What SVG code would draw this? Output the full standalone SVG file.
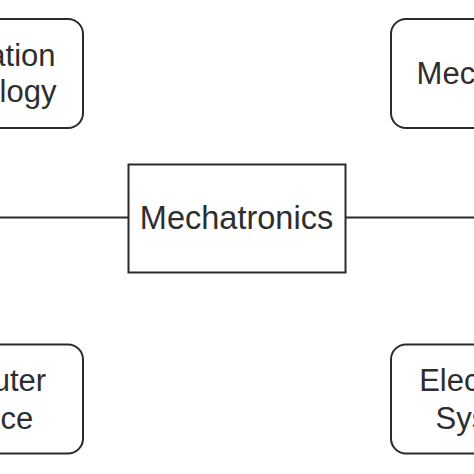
<svg xmlns="http://www.w3.org/2000/svg" width="474" height="474" viewBox="0 0 474 474">
<style>
.box{fill:#ffffff;stroke:#2b2b2b;stroke-width:2}
.edge{fill:none;stroke:#2b2b2b;stroke-width:2}
.lbl{font-family:"Liberation Sans",Arial,sans-serif;font-size:31px;fill:#2e2e2e;text-anchor:middle}
.big{font-size:32.5px}
</style>
<rect x="0" y="0" width="474" height="474" fill="#ffffff"/>
<g id="connectors">
<line class="edge" x1="-60" y1="217.5" x2="128.5" y2="217.5"/>
<line class="edge" x1="345.5" y1="217.5" x2="534" y2="217.5"/>
</g>
<g id="node-mechatronics">
<rect class="box" x="128.5" y="164.5" width="217" height="108"/>
<text class="lbl big" x="236.5" y="228.5">Mechatronics</text>
</g>
<g id="node-information-technology">
<rect class="box" x="-125" y="19" width="208" height="109" rx="15" ry="15"/>
<text class="lbl" x="-22" y="65.5">Information</text>
<text class="lbl" x="-22" y="101.5">Technology</text>
</g>
<g id="node-mechanical">
<rect class="box" x="391" y="19" width="208" height="109" rx="15" ry="15"/>
<text class="lbl" x="495" y="83.5">Mechanical</text>
</g>
<g id="node-computer-science">
<rect class="box" x="-125" y="344.5" width="208" height="109" rx="15" ry="15"/>
<text class="lbl" x="-22" y="391">Computer</text>
<text class="lbl" x="-22" y="428.5">Science</text>
</g>
<g id="node-electronics-systems">
<rect class="box" x="391" y="344.5" width="208" height="109" rx="15" ry="15"/>
<text class="lbl" x="495" y="391">Electronics</text>
<text class="lbl" x="495" y="428.5">Systems</text>
</g>
</svg>
